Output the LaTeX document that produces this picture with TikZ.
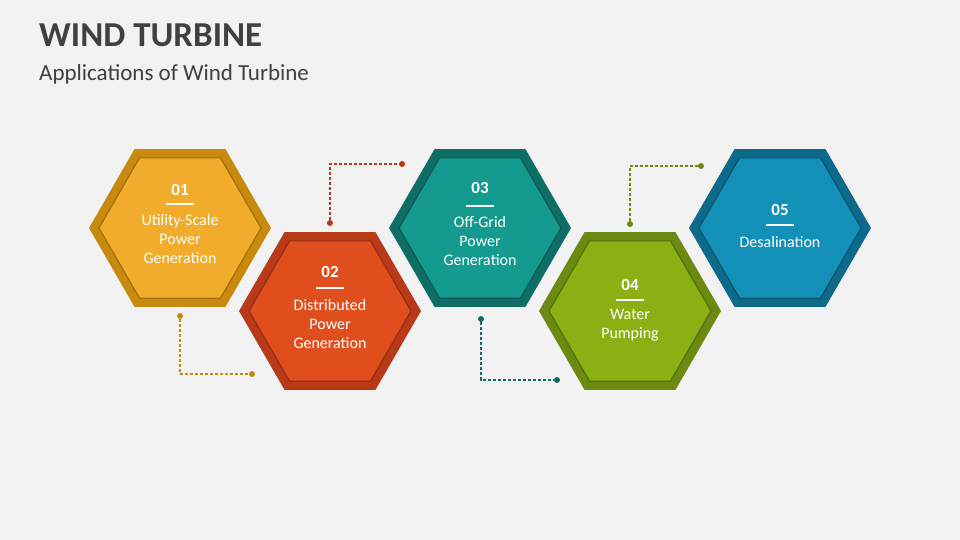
\documentclass[tikz,border=0pt]{standalone}
\usepackage{fontspec}
\setmainfont{Carlito}
\usetikzlibrary{shapes.geometric}
\definecolor{bg}{HTML}{F2F2F2}
\definecolor{ttl}{HTML}{404040}
\definecolor{oA}{HTML}{C8890F}\definecolor{iA}{HTML}{F0AC2A}
\definecolor{oB}{HTML}{B83A18}\definecolor{iB}{HTML}{E04E1E}
\definecolor{oC}{HTML}{0E6E66}\definecolor{iC}{HTML}{149A8E}
\definecolor{oD}{HTML}{6C8A12}\definecolor{iD}{HTML}{8AB014}
\definecolor{oE}{HTML}{0E6A8A}\definecolor{iE}{HTML}{1290B8}
\tikzset{
 hexo/.style={regular polygon,regular polygon sides=6,minimum size=182pt,inner sep=0pt,fill=#1},
 hexi/.style={regular polygon,regular polygon sides=6,minimum size=162pt,inner sep=0pt,fill=#1},
 num/.style={text=white,font=\fontsize{17}{19}\selectfont\bfseries},
 lbl/.style={text=white,font=\fontsize{16}{19}\selectfont,align=center},
 dl/.style={draw=#1,line width=1.2pt,dash pattern=on 3pt off 2pt},
 dot/.style={circle,fill=#1,inner sep=0pt,minimum size=6pt}
}
\begin{document}
\begin{tikzpicture}[x=1pt,y=-1pt]
\fill[bg] (0,0) rectangle (960,540);
\useasboundingbox (0,0) rectangle (960,540);
\node[anchor=west,text=ttl,font=\fontsize{35}{37}\selectfont\bfseries,inner sep=0pt] (title) at (39,35) {WIND TURBINE};
\node[anchor=west,text=ttl,font=\fontsize{23}{25}\selectfont,inner sep=0pt] (sub) at (39,74) {Applications of Wind Turbine};
% connectors
\node[dot=oA] (a1) at (180,316) {};\node[dot=oA] (a2) at (252,374) {};
\draw[dl=oA] (a1) |- (a2);
\node[dot=oB] (b1) at (330,223) {};\node[dot=oB] (b2) at (402,164) {};
\draw[dl=oB] (b1) |- (b2);
\node[dot=oC] (c1) at (481,319) {};\node[dot=oC] (c2) at (557,380) {};
\draw[dl=oC] (c1) |- (c2);
\node[dot=oD] (d1) at (630,224) {};\node[dot=oD] (d2) at (701,166) {};
\draw[dl=oD] (d1) |- (d2);
% hexagons
\foreach \n/\x/\y/\o/\i in {A/180/228/oA/iA,B/330/311/oB/iB,C/480/228/oC/iC,D/630/311/oD/iD,E/780/228/oE/iE}{
  \node[hexo=\o] (ho\n) at (\x,\y) {};
  \node[hexi=\i,draw=\o!80!black,line width=1.2pt] (hi\n) at (\x,\y) {};
}
\node[num] (nA) at (180,190) {01}; \draw[white,line width=1.5pt] (166,204)--(194,204);
\node[lbl] (tA) at (180,239) {Utility-Scale\\Power\\Generation};
\node[num] (nB) at (330,272) {02}; \draw[white,line width=1.5pt] (316,288)--(344,288);
\node[lbl] (tB) at (330,324) {Distributed\\Power\\Generation};
\node[num] (nC) at (480,188) {03}; \draw[white,line width=1.5pt] (466,206)--(494,206);
\node[lbl] (tC) at (480,241) {Off-Grid\\Power\\Generation};
\node[num] (nD) at (630,285) {04}; \draw[white,line width=1.5pt] (616,300)--(644,300);
\node[lbl] (tD) at (630,325) {Water\\Pumping};
\node[num] (nE) at (780,210) {05}; \draw[white,line width=1.5pt] (766,225)--(794,225);
\node[lbl] (tE) at (780,242) {Desalination};
\end{tikzpicture}
\end{document}
